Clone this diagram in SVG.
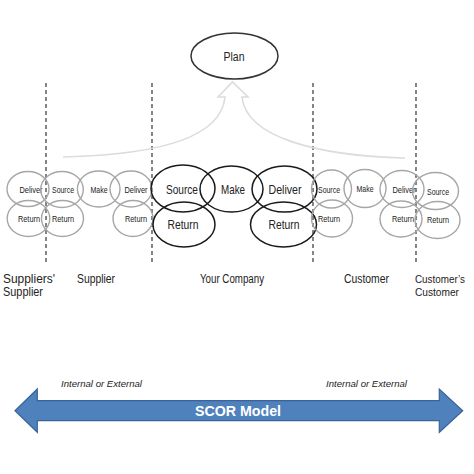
<svg xmlns="http://www.w3.org/2000/svg" width="474" height="474" viewBox="0 0 474 474">
<style>
.sm{fill:none;stroke:#a6a6a6;stroke-width:1.4}
.bg{fill:none;stroke:#1a1a1a;stroke-width:1.5}
.div{stroke:#444;stroke-width:1.3;stroke-dasharray:4 3}
text{font-family:"Liberation Sans",Arial,sans-serif;text-anchor:middle;fill:#222}
.ts{font-size:9px}
.tb{font-size:13px}
.lb{font-size:12px}
.ls{font-size:12px;text-anchor:start}
.lr{font-size:11px;text-anchor:start}
.ie{font-size:9px;font-style:italic;text-anchor:start}
</style>
<rect width="474" height="474" fill="#fff"/>
<g id="dividers">
<line class="div" x1="46" y1="83" x2="46" y2="262"/>
<line class="div" x1="152" y1="83" x2="152" y2="262"/>
<line class="div" x1="313" y1="83" x2="313" y2="262"/>
<line class="div" x1="416" y1="83" x2="416" y2="262"/>
</g>
<g id="connectors">
<path d="M63,157 C150,155 221,140 225,97 L218,97 L232.5,82 L248,97 L242,97 C246,138 320,156 405,158" fill="none" stroke="#dcdcdc" stroke-width="1.6"/>
</g>
<g id="plan">
<ellipse cx="234.5" cy="56" rx="43.5" ry="23" fill="none" stroke="#333" stroke-width="1.5"/>
<text class="lb" x="234" y="61" textLength="21" lengthAdjust="spacingAndGlyphs">Plan</text>
</g>
<g id="ss-deliver"><ellipse class="sm" cx="28" cy="189" rx="21" ry="17.5"/><text class="ts" x="31" y="193" textLength="23" lengthAdjust="spacingAndGlyphs">Deliver</text></g>
<g id="ss-return"><ellipse class="sm" cx="28.5" cy="218.5" rx="21.3" ry="18"/><text class="ts" x="29" y="222" textLength="22" lengthAdjust="spacingAndGlyphs">Return</text></g>
<g id="s-source"><ellipse class="sm" cx="62" cy="189.5" rx="21.3" ry="18"/><text class="ts" x="63" y="193" textLength="22" lengthAdjust="spacingAndGlyphs">Source</text></g>
<g id="s-return1"><ellipse class="sm" cx="62.5" cy="218.5" rx="21" ry="18"/><text class="ts" x="63" y="222" textLength="22" lengthAdjust="spacingAndGlyphs">Return</text></g>
<g id="s-make"><ellipse class="sm" cx="98.7" cy="189" rx="21.3" ry="18"/><text class="ts" x="99" y="193" textLength="17" lengthAdjust="spacingAndGlyphs">Make</text></g>
<g id="s-deliver"><ellipse class="sm" cx="131" cy="189" rx="21" ry="18"/><text class="ts" x="136" y="193" textLength="23" lengthAdjust="spacingAndGlyphs">Deliver</text></g>
<g id="s-return2"><ellipse class="sm" cx="133" cy="218.5" rx="20" ry="18"/><text class="ts" x="136" y="222" textLength="22" lengthAdjust="spacingAndGlyphs">Return</text></g>
<g id="yc-source"><ellipse class="bg" cx="183" cy="188.5" rx="32" ry="23.5"/><text class="tb" x="182" y="194" textLength="32" lengthAdjust="spacingAndGlyphs">Source</text></g>
<g id="yc-make"><ellipse class="bg" cx="231.5" cy="189" rx="31.5" ry="23"/><text class="tb" x="233" y="194" textLength="24" lengthAdjust="spacingAndGlyphs">Make</text></g>
<g id="yc-deliver"><ellipse class="bg" cx="284.5" cy="189" rx="32.5" ry="23"/><text class="tb" x="285" y="194" textLength="33" lengthAdjust="spacingAndGlyphs">Deliver</text></g>
<g id="yc-return1"><ellipse class="bg" cx="184" cy="224.5" rx="31" ry="22.5"/><text class="tb" x="183" y="229" textLength="31" lengthAdjust="spacingAndGlyphs">Return</text></g>
<g id="yc-return2"><ellipse class="bg" cx="283.5" cy="224.5" rx="33" ry="22.5"/><text class="tb" x="284" y="229" textLength="31" lengthAdjust="spacingAndGlyphs">Return</text></g>
<g id="c-source"><ellipse class="sm" cx="331.5" cy="189" rx="20" ry="19"/><text class="ts" x="329" y="193" textLength="22" lengthAdjust="spacingAndGlyphs">Source</text></g>
<g id="c-return1"><ellipse class="sm" cx="332" cy="218.5" rx="20.5" ry="18.5"/><text class="ts" x="329" y="222" textLength="22" lengthAdjust="spacingAndGlyphs">Return</text></g>
<g id="c-make"><ellipse class="sm" cx="365" cy="188.5" rx="21" ry="19"/><text class="ts" x="365" y="192" textLength="17" lengthAdjust="spacingAndGlyphs">Make</text></g>
<g id="c-deliver"><ellipse class="sm" cx="402" cy="189" rx="22" ry="18.5"/><text class="ts" x="404" y="193" textLength="23" lengthAdjust="spacingAndGlyphs">Deliver</text></g>
<g id="c-return2"><ellipse class="sm" cx="401" cy="219" rx="21" ry="18"/><text class="ts" x="403" y="222" textLength="22" lengthAdjust="spacingAndGlyphs">Return</text></g>
<g id="cc-source"><ellipse class="sm" cx="435.5" cy="191" rx="23" ry="18.5"/><text class="ts" x="438" y="195" textLength="22" lengthAdjust="spacingAndGlyphs">Source</text></g>
<g id="cc-return"><ellipse class="sm" cx="437.5" cy="220" rx="22.5" ry="18.5"/><text class="ts" x="438" y="223" textLength="22" lengthAdjust="spacingAndGlyphs">Return</text></g>
<g id="labels">
<text class="ls" x="3" y="283" textLength="52" lengthAdjust="spacingAndGlyphs">Suppliers'</text>
<text class="ls" x="3" y="296" textLength="40" lengthAdjust="spacingAndGlyphs">Supplier</text>
<text class="ls" x="77" y="283" textLength="38" lengthAdjust="spacingAndGlyphs">Supplier</text>
<text class="lb" x="232" y="283" textLength="64" lengthAdjust="spacingAndGlyphs">Your Company</text>
<text class="ls" x="344" y="283" textLength="45" lengthAdjust="spacingAndGlyphs">Customer</text>
<text class="lr" x="415" y="283" textLength="50" lengthAdjust="spacingAndGlyphs">Customer’s</text>
<text class="lr" x="415" y="296" textLength="44" lengthAdjust="spacingAndGlyphs">Customer</text>
</g>
<g id="scor-model">
<path d="M15,410.7 L37.3,389 L37.3,400.7 L439.3,400.7 L439.3,389 L462.7,410.7 L439.3,432.3 L439.3,420.7 L37.3,420.7 L37.3,432.3 Z" fill="#4f81bd" stroke="#3a639a" stroke-width="1.2"/>
<text x="238" y="416" style="font-size:15px;font-weight:bold;fill:#fff" textLength="86" lengthAdjust="spacingAndGlyphs">SCOR Model</text>
<text class="ie" x="61" y="387" textLength="81" lengthAdjust="spacingAndGlyphs">Internal or External</text>
<text class="ie" x="326" y="387" textLength="81" lengthAdjust="spacingAndGlyphs">Internal or External</text>
</g>
</svg>
